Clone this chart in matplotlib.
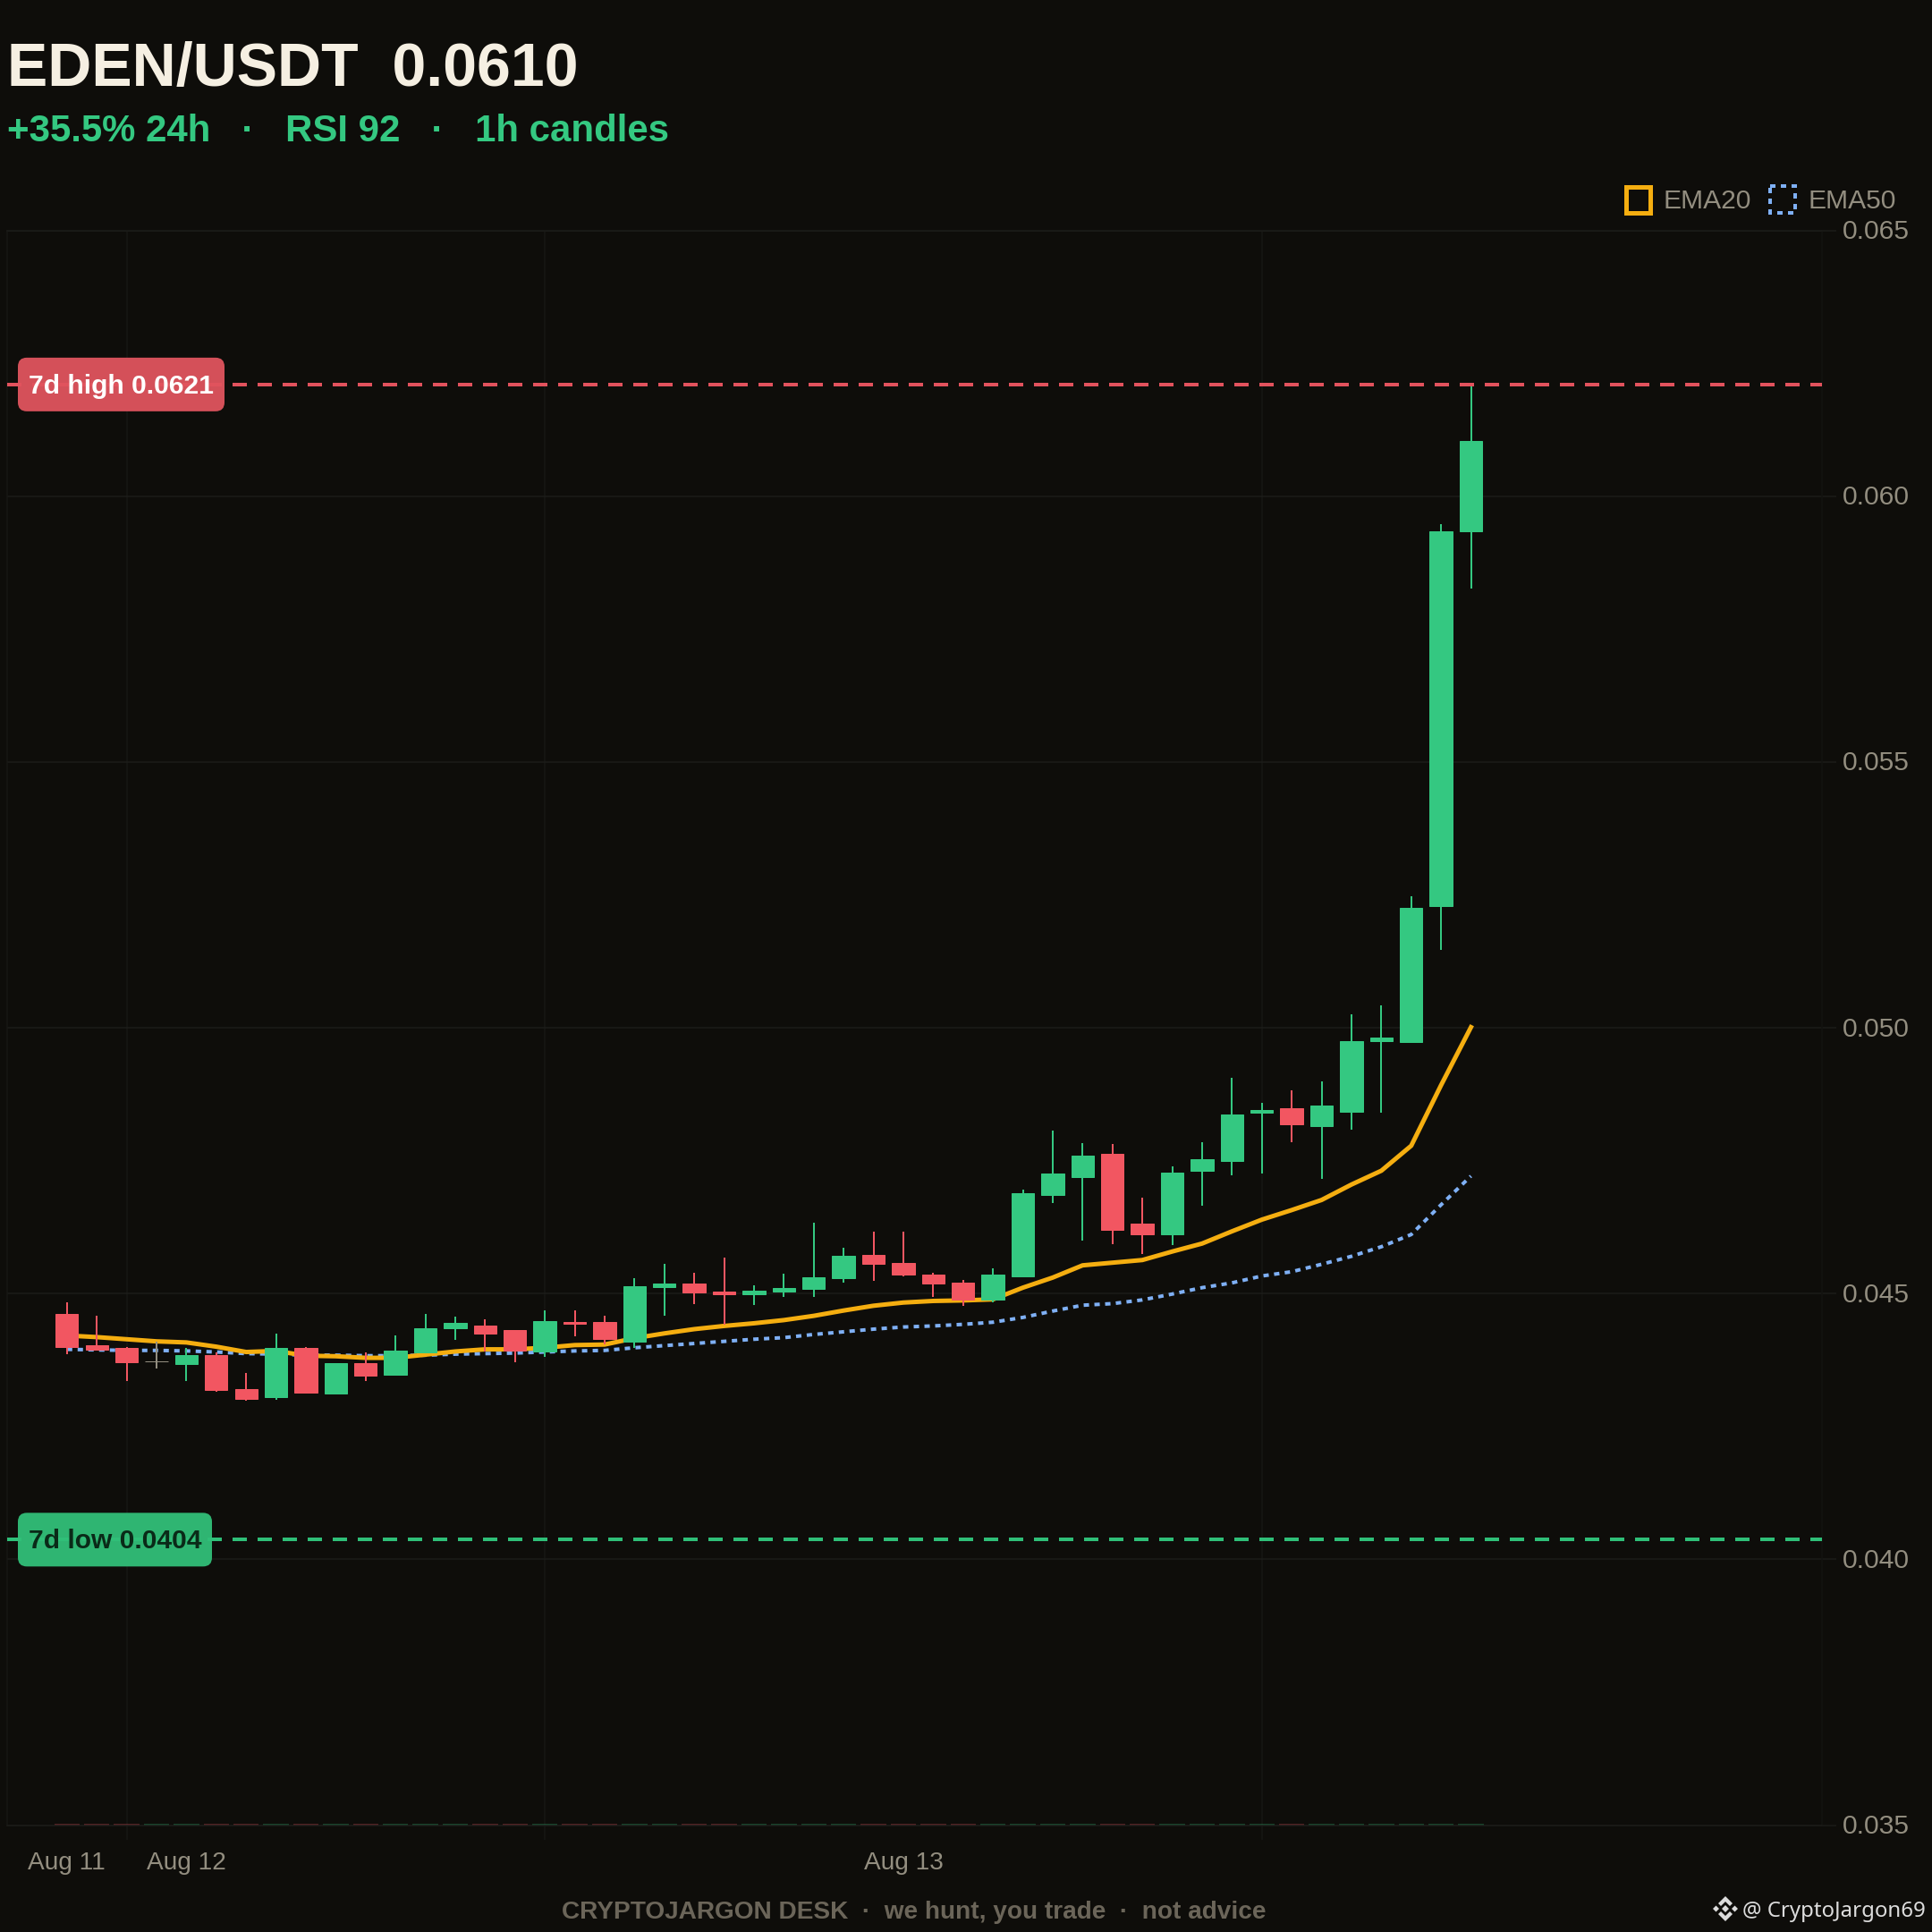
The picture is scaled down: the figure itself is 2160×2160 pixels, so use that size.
#!/usr/bin/env python3
"""EDEN/USDT 1h candle chart with EMA lines and 7d high / low levels."""

import matplotlib
matplotlib.use("Agg")
import matplotlib.pyplot as plt
from matplotlib.patches import FancyBboxPatch, Polygon, Rectangle
from matplotlib.transforms import ScaledTranslation

# values
opens = [0.04462, 0.04402, 0.04398, 0.04372, 0.04368, 0.04384, 0.04321, 0.04305,
         0.04398, 0.04312, 0.04369, 0.04347, 0.04390, 0.04434, 0.04440, 0.04432,
         0.04391, 0.04447, 0.04446, 0.04410, 0.04512, 0.04519, 0.04504, 0.04499,
         0.04504, 0.04508, 0.04529, 0.04573, 0.04557, 0.04535, 0.04520, 0.04489,
         0.04533, 0.04685, 0.04719, 0.04762, 0.04631, 0.04612, 0.04730, 0.04749,
         0.04840, 0.04848, 0.04815, 0.04842, 0.04974, 0.04973, 0.05229, 0.05933]
closes = [0.04399, 0.04395, 0.04370, 0.04372, 0.04384, 0.04318, 0.04301, 0.04398,
          0.04313, 0.04369, 0.04346, 0.04393, 0.04435, 0.04444, 0.04424, 0.04392,
          0.04448, 0.04443, 0.04414, 0.04514, 0.04518, 0.04502, 0.04499, 0.04506,
          0.04511, 0.04531, 0.04571, 0.04555, 0.04535, 0.04518, 0.04488, 0.04535,
          0.04688, 0.04725, 0.04759, 0.04620, 0.04612, 0.04727, 0.04753, 0.04836,
          0.04846, 0.04818, 0.04853, 0.04975, 0.04982, 0.05225, 0.05934, 0.06104]
highs = [0.04484, 0.04458, 0.04400, 0.04410, 0.04398, 0.04390, 0.04351, 0.04425,
         0.04400, 0.04369, 0.04390, 0.04421, 0.04462, 0.04456, 0.04452, 0.04432,
         0.04469, 0.04469, 0.04458, 0.04529, 0.04556, 0.04539, 0.04567, 0.04516,
         0.04538, 0.04634, 0.04586, 0.04616, 0.04616, 0.04539, 0.04526, 0.04548,
         0.04695, 0.04806, 0.04783, 0.04781, 0.04680, 0.04739, 0.04785, 0.04906,
         0.04858, 0.04882, 0.04899, 0.05025, 0.05042, 0.05247, 0.05948, 0.06206]
lows = [0.04386, 0.04393, 0.04335, 0.04359, 0.04335, 0.04315, 0.04299, 0.04300,
        0.04313, 0.04311, 0.04336, 0.04347, 0.04390, 0.04413, 0.04391, 0.04370,
        0.04381, 0.04419, 0.04404, 0.04398, 0.04458, 0.04480, 0.04441, 0.04478,
        0.04494, 0.04493, 0.04521, 0.04524, 0.04532, 0.04493, 0.04476, 0.04483,
        0.04531, 0.04670, 0.04600, 0.04593, 0.04575, 0.04591, 0.04666, 0.04723,
        0.04725, 0.04785, 0.04716, 0.04809, 0.04840, 0.04972, 0.05147, 0.05826]
ema20 = [0.04421, 0.04418, 0.04414, 0.04410, 0.04408, 0.04400, 0.04390, 0.04392,
         0.04383, 0.04382, 0.04379, 0.04379, 0.04385, 0.04391, 0.04395, 0.04395,
         0.04398, 0.04403, 0.04404, 0.04416, 0.04425, 0.04433, 0.04439, 0.04444,
         0.04450, 0.04458, 0.04468, 0.04477, 0.04483, 0.04486, 0.04487, 0.04489,
         0.04511, 0.04530, 0.04553, 0.04558, 0.04563, 0.04579, 0.04594, 0.04617,
         0.04639, 0.04657, 0.04676, 0.04705, 0.04731, 0.04778, 0.04892, 0.05001]
ema50 = [0.04395, 0.04394, 0.04393, 0.04393, 0.04392, 0.04390, 0.04387, 0.04386,
         0.04384, 0.04384, 0.04383, 0.04383, 0.04384, 0.04386, 0.04387, 0.04388,
         0.04390, 0.04392, 0.04393, 0.04398, 0.04402, 0.04406, 0.04410, 0.04414,
         0.04417, 0.04423, 0.04428, 0.04433, 0.04437, 0.04439, 0.04442, 0.04446,
         0.04455, 0.04467, 0.04478, 0.04481, 0.04488, 0.04499, 0.04511, 0.04520,
         0.04533, 0.04541, 0.04555, 0.04570, 0.04588, 0.04611, 0.04667, 0.04721]
volumes = [0.00002] * 48  # barely visible strip on the axis floor

high_7d = 0.0621
low_7d = 0.04037
y_ticks = [0.035, 0.040, 0.045, 0.050, 0.055, 0.060, 0.065]
grid_x = [2, 16, 40]
date_pos = [0, 4, 28]
date_labels = ["Aug 11", "Aug 12", "Aug 13"]

BG = "#0e0d0a"
GRID = "#1c1c19"
GRID_V = "#171714"
MUTED = "#938e80"
GREEN = "#34c881"
RED = "#f25661"
AMBER = "#f5ae10"
BLUE = "#7fb0f5"
DPI = 100


def pt(px):
    # sizes below are worked out in output pixels
    return px * 72 / DPI


plt.rcParams["font.family"] = ["Liberation Sans", "DejaVu Sans"]
plt.rcParams["lines.scale_dashes"] = False

fig = plt.figure(figsize=(21.6, 21.6), dpi=DPI, facecolor=BG)
ax = fig.add_axes([8 / 2160, (2160 - 2040.5) / 2160, 2029 / 2160, 1783 / 2160], facecolor=BG)
ax.set_xlim(-2.0, 58.75)
ax.set_ylim(0.035, 0.065)

for side, spine in ax.spines.items():
    spine.set_color(GRID if side in ("top", "bottom") else GRID_V)
    spine.set_linewidth(pt(1.5))
ax.spines["right"].set_color("#131310")

ax.yaxis.tick_right()
ax.set_yticks(y_ticks, [f"{v:.3f}" for v in y_ticks])
ax.set_xticks(grid_x, [""] * len(grid_x))
ax.set_xticks(date_pos, date_labels, minor=True)
ax.grid(True, axis="y", which="major", color=GRID, linewidth=pt(1.5), zorder=0)
ax.grid(True, axis="x", which="major", color=GRID_V, linewidth=pt(1.5), zorder=0)
ax.tick_params(axis="y", which="major", length=pt(16), width=pt(1.5), color=GRID,
               labelsize=pt(30), labelcolor=MUTED, pad=pt(6.5))
ax.tick_params(axis="x", which="major", length=pt(16), width=pt(1.5), color=GRID_V)
ax.tick_params(axis="x", which="minor", length=0, labelsize=pt(28), labelcolor=MUTED, pad=pt(29))
ax.set_axisbelow(True)
nudge = ScaledTranslation(0, -1.5 / DPI, fig.dpi_scale_trans)
for label in ax.get_yticklabels():
    label.set_verticalalignment("center")
    label.set_transform(label.get_transform() + nudge)

xs = list(range(len(opens)))
up = [c >= o for o, c in zip(opens, closes)]
colors = [MUTED if o == c else (GREEN if u else RED) for o, c, u in zip(opens, closes, up)]
vol_colors = [GREEN if u else RED for u in up]

ax.bar(xs, volumes, bottom=0.035, width=0.85, color=vol_colors, alpha=0.3, linewidth=0, zorder=1)

ax.plot(xs, ema50, color=BLUE, linewidth=pt(4), linestyle=(0, (pt(6), pt(6))), zorder=2)
ax.plot(xs, ema20, color=AMBER, linewidth=pt(5), solid_joinstyle="round", zorder=3)

ax.vlines(xs, lows, highs, colors=colors, linewidth=pt(2), zorder=4)
bottoms = [min(o, c) for o, c in zip(opens, closes)]
heights = [abs(o - c) for o, c in zip(opens, closes)]
ax.bar(xs, heights, bottom=bottoms, width=0.76, color=colors, edgecolor=colors,
       linewidth=pt(1), zorder=5)

dashes = (0, (pt(16), pt(12)))
ax.axhline(high_7d, color="#e2525d", linewidth=pt(4), linestyle=dashes, zorder=3)
ax.axhline(low_7d, color="#2fbf78", linewidth=pt(4), linestyle=dashes, zorder=3)

# overlay in pixel coordinates for header, badges, legend and footer
ov = fig.add_axes([0, 0, 1, 1], facecolor="none")
ov.set_xlim(0, 2160)
ov.set_ylim(2160, 0)
ov.axis("off")

ov.text(8, 96, "EDEN/USDT  0.0610", color="#f5efe2", fontsize=pt(68), fontweight="bold", va="baseline")
ov.text(8, 158, "+35.5% 24h   ·   RSI 92   ·   1h candles", color=GREEN, fontsize=pt(42),
        fontweight="bold", va="baseline")

# legend
ov.add_patch(Rectangle((1817.5, 208.5), 27, 29, fill=False, edgecolor=AMBER, linewidth=pt(5)))
ov.add_patch(Rectangle((1979, 208), 28, 30, fill=False, edgecolor=BLUE, linewidth=pt(4),
                       linestyle=(0, (pt(6), pt(6)))))
ov.text(1859.5, 233, "EMA20", color=MUTED, fontsize=pt(30), va="baseline")
ov.text(2021.5, 233, "EMA50", color=MUTED, fontsize=pt(30), va="baseline")


def badge(value, text, x1, face, text_color):
    # badge sits on its price level, so take y from the price axis
    y = 2160 - ax.transData.transform((0, value))[1]
    ov.add_patch(FancyBboxPatch((20 + 10, y - 30 + 10), x1 - 20 - 20, 40,
                                boxstyle="round,pad=10,rounding_size=10",
                                facecolor=face, edgecolor="none", alpha=0.95, zorder=5))
    ov.text(32, y + 10, text, color=text_color, fontsize=pt(30), fontweight="bold",
            va="baseline", zorder=6)


fig.canvas.draw()
badge(high_7d, "7d high 0.0621", 251, "#e0545e", "#ffffff")
badge(low_7d, "7d low 0.0404", 237, "#31bf78", "#0a2a18")

# footer
ov.text(1022, 2145, "CRYPTOJARGON DESK  ·  we hunt, you trade  ·  not advice", color="#6b6559",
        fontsize=pt(28), fontweight="bold", ha="center", va="baseline")

LOGO = "#dcdcdc"
cx, cy = 1929, 2134
ov.add_patch(Polygon([(cx, cy - 4), (cx + 4, cy), (cx, cy + 4), (cx - 4, cy)], color=LOGO, lw=0))
ov.add_patch(Polygon([(cx - 14, cy), (cx - 10.5, cy - 3.5), (cx - 7, cy), (cx - 10.5, cy + 3.5)], color=LOGO, lw=0))
ov.add_patch(Polygon([(cx + 14, cy), (cx + 10.5, cy - 3.5), (cx + 7, cy), (cx + 10.5, cy + 3.5)], color=LOGO, lw=0))
ov.add_patch(Polygon([(cx, cy - 14), (cx + 8, cy - 6), (cx + 5, cy - 3), (cx, cy - 8), (cx - 5, cy - 3), (cx - 8, cy - 6)], color=LOGO, lw=0))
ov.add_patch(Polygon([(cx, cy + 14), (cx + 8, cy + 6), (cx + 5, cy + 3), (cx, cy + 8), (cx - 5, cy + 3), (cx - 8, cy + 6)], color=LOGO, lw=0))
ov.text(1948, 2143, "@ CryptoJargon69", color=LOGO, fontsize=pt(24), family=["Noto Sans", "DejaVu Sans"],
        va="baseline")

fig.savefig("out.png", dpi=DPI, facecolor=BG)
